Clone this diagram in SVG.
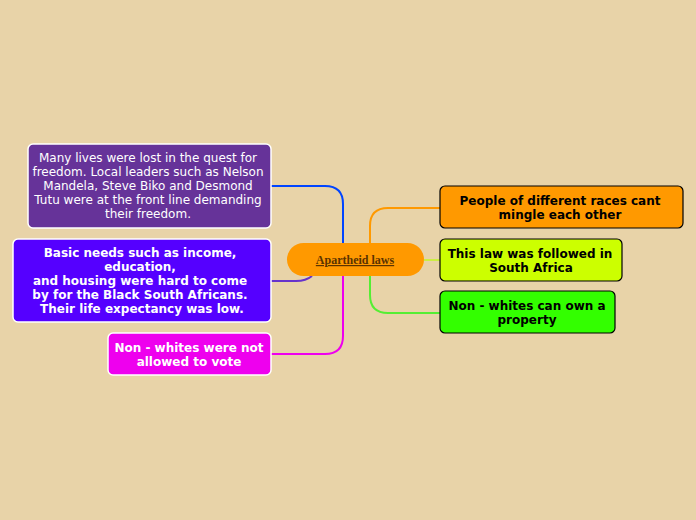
<svg xmlns="http://www.w3.org/2000/svg" width="696" height="520" viewBox="0 0 696 520">
<style>
text{font-family:"DejaVu Sans","Liberation Sans",sans-serif;font-size:12px;text-anchor:middle}
.b{font-weight:bold}
.w{fill:#fff}
.l rect{stroke:#fff;stroke-width:1.5}
.r rect{stroke:#000;stroke-width:1.2}
path{fill:none;stroke-width:2}
</style>
<rect width="696" height="520" fill="#e8d3a8"/>
<g id="connectors">
<path d="M271,186 H325 Q343,186 343,204 V243" stroke="#0044ff"/>
<path d="M271,281 H296 Q306,281 312,276" stroke="#6633cc"/>
<path d="M271,354 H325 Q343,354 343,336 V276" stroke="#ee00ee"/>
<path d="M370,243 V226 Q370,208 388,208 H440" stroke="#ff9900"/>
<path d="M424,260 H440" stroke="#ccee44"/>
<path d="M370,276 V295 Q370,313 388,313 H440" stroke="#55ee33"/>
</g>
<g id="center"><rect x="287" y="243" width="137" height="33" rx="16.5" fill="#ff9900"/>
<text x="355" y="264" style="font-family:'Liberation Serif',serif;font-size:12px;fill:#5a3300;text-decoration:underline" class="b">Apartheid laws</text></g>
<g id="n1" class="l"><rect x="28" y="144" width="243" height="84" rx="5" fill="#663399"/>
<text class="w"><tspan x="148" y="162">Many lives were lost in the quest for</tspan><tspan x="148" y="176">freedom. Local leaders such as Nelson</tspan><tspan x="148" y="190">Mandela, Steve Biko and Desmond</tspan><tspan x="148" y="204">Tutu were at the front line demanding</tspan><tspan x="148" y="218">their freedom.</tspan></text></g>
<g id="n2" class="l"><rect x="13" y="239" width="258" height="83" rx="5" fill="#5500ff"/>
<text class="w b"><tspan x="140" y="257">Basic needs such as income,</tspan><tspan x="140" y="271">education,</tspan><tspan x="140" y="285">and housing were hard to come</tspan><tspan x="140" y="299">by for the Black South Africans.</tspan><tspan x="142" y="313">Their life expectancy was low.</tspan></text></g>
<g id="n3" class="l"><rect x="108" y="333" width="163" height="42" rx="5" fill="#ee00ee"/>
<text class="w b"><tspan x="189" y="352">Non - whites were not</tspan><tspan x="189" y="366">allowed to vote</tspan></text></g>
<g id="r1" class="r"><rect x="440" y="186" width="243" height="42" rx="5" fill="#ff9900"/>
<text class="b"><tspan x="560" y="205">People of different races cant</tspan><tspan x="560" y="219">mingle each other</tspan></text></g>
<g id="r2" class="r"><rect x="440" y="239" width="182" height="42" rx="5" fill="#ccff00"/>
<text class="b"><tspan x="530" y="258">This law was followed in</tspan><tspan x="531" y="272">South Africa</tspan></text></g>
<g id="r3" class="r"><rect x="440" y="291" width="175" height="42" rx="5" fill="#33ff00"/>
<text class="b"><tspan x="527" y="310">Non - whites can own a</tspan><tspan x="527" y="324">property</tspan></text></g>
</svg>
